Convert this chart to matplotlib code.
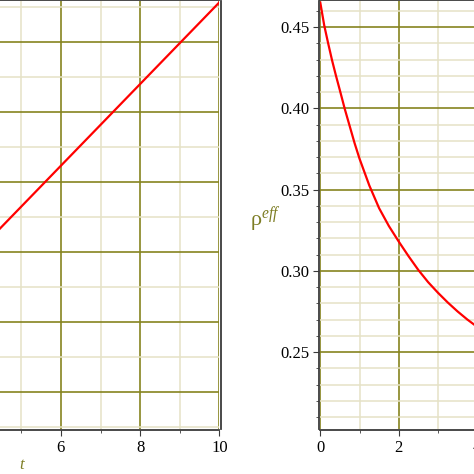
import matplotlib
matplotlib.use("Agg")
import matplotlib.pyplot as plt
from matplotlib.ticker import MultipleLocator

# left panel: straight line (its y tick labels are cut off in the reference)
t_left = [0, 10]
y_left = [0.733, 6.561]
left_xticks = [6, 8, 10]

# right panel: rho_eff
t_right = [0.0, 0.1, 0.2, 0.3, 0.4, 0.5, 0.625, 0.75, 0.875, 1.0, 1.25, 1.5,
           1.75, 2.0, 2.25, 2.5, 2.75, 3.0, 3.25, 3.5, 3.75, 4.0, 4.5, 5.0]
rho_eff = [0.465, 0.451, 0.440, 0.4295, 0.420, 0.411, 0.3995, 0.389, 0.3785,
           0.369, 0.3525, 0.3385, 0.3275, 0.318, 0.309, 0.3005, 0.293, 0.2865,
           0.2805, 0.275, 0.270, 0.2655, 0.258, 0.251]
right_xticks = [0, 2, 4]
right_yticks = [0.25, 0.30, 0.35, 0.40, 0.45]

olive = "#86841f"
minor_c = "#e5e2c6"
spine_c = "#3a3a3a"
label_c = "#7d7d24"

plt.rcParams["font.family"] = ["Liberation Serif", "DejaVu Serif"]
plt.rcParams["mathtext.fontset"] = "custom"
plt.rcParams["mathtext.rm"] = "Liberation Serif"
plt.rcParams["mathtext.it"] = "Liberation Serif:italic"

fig = plt.figure(figsize=(4.74, 4.74), dpi=100)
W = H = 474.0
bottom = 45.3 / H
height = 427.7 / H
ax1 = fig.add_axes([-176.7 / W, bottom, 396 / W, height])
ax2 = fig.add_axes([320.3 / W, bottom, 392 / W, height])


def style(ax, xmin, ymaj, ymin):
    ax.xaxis.set_minor_locator(MultipleLocator(xmin))
    ax.yaxis.set_major_locator(MultipleLocator(ymaj))
    ax.yaxis.set_minor_locator(MultipleLocator(ymin))
    ax.grid(which="minor", color=minor_c, lw=1.1, zorder=0)
    ax.grid(which="major", color=olive, lw=1.2, zorder=1)
    ax.set_axisbelow(True)
    for s in ax.spines.values():
        s.set_color(spine_c)
        s.set_linewidth(1.3)
        s.set_position(("outward", 1.0))
    ax.tick_params(which="major", direction="out", length=4, width=0.8,
                   color=spine_c, labelsize=12, pad=3)
    ax.tick_params(which="minor", direction="out", length=2.5, width=0.6,
                   color=spine_c)


ax1.plot(t_left, y_left, color="red", lw=1.6, zorder=3)
ax1.set_xlim(0, 10)
ax1.set_ylim(0.476, 6.581)
style(ax1, 1, 1, 0.5)
ax1.set_xticks(left_xticks)
ax1.tick_params(labelleft=False)
ax1.set_xlabel("t", style="italic", color=label_c, fontsize=12, va="center")
ax1.xaxis.set_label_coords(0.5, -0.085)

ax2.plot(t_right, rho_eff, color="red", lw=1.6, zorder=3)
ax2.set_xlim(0, 10)
ax2.set_ylim(0.2028, 0.466)
style(ax2, 1, 0.05, 0.01)
ax2.set_xticks(right_xticks)
ax2.set_yticks(right_yticks)
ax2.set_yticklabels([f"{v:.2f}" for v in right_yticks])
ax2.set_ylabel(r"$\mathrm{\rho}^{eff}$", color=label_c, fontsize=16,
               rotation=0, ha="center", va="center")
ax2.yaxis.set_label_coords(-0.14, 0.488)

fig.savefig("out.png", dpi=100)
